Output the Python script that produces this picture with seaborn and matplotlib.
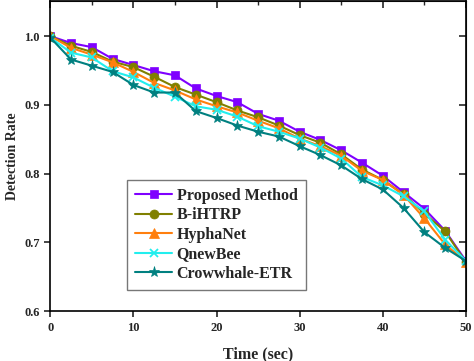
import numpy as np
import pandas as pd
import matplotlib
matplotlib.use('Agg')
import matplotlib.pyplot as plt
import seaborn as sns

# Données
time = [0, 2.5, 5, 7.5, 10, 12.5, 15, 17.5, 20, 22.5, 25, 27.5, 30, 32.5, 35, 37.5, 40, 42.5, 45, 47.5, 50]
proposed = [1.000, 0.990, 0.984, 0.967, 0.958, 0.949, 0.943, 0.924, 0.913, 0.904, 0.887,
            0.877, 0.861, 0.849, 0.834, 0.816, 0.797, 0.773, 0.749, 0.717, 0.673]
bihtrp = [1.000, 0.986, 0.977, 0.963, 0.955, 0.941, 0.926, 0.915, 0.904, 0.892, 0.882,
          0.870, 0.856, 0.845, 0.828, 0.806, 0.791, 0.770, 0.742, 0.716, 0.671]
hyphanet = [1.000, 0.983, 0.973, 0.962, 0.948, 0.932, 0.921, 0.908, 0.898, 0.889, 0.877,
            0.866, 0.851, 0.840, 0.826, 0.804, 0.791, 0.769, 0.735, 0.697, 0.672]
qnewbee = [0.998, 0.976, 0.969, 0.949, 0.940, 0.925, 0.912, 0.898, 0.893, 0.883, 0.869,
           0.861, 0.851, 0.838, 0.822, 0.795, 0.783, 0.767, 0.745, 0.704, 0.673]
crowwhale = [0.998, 0.966, 0.957, 0.948, 0.929, 0.918, 0.918, 0.891, 0.881, 0.870, 0.861,
             0.854, 0.840, 0.827, 0.812, 0.792, 0.777, 0.750, 0.715, 0.692, 0.673]

methods = ['Proposed Method', 'B-iHTRP', 'HyphaNet', 'QnewBee', 'Crowwhale-ETR']
series = [proposed, bihtrp, hyphanet, qnewbee, crowwhale]
colors = ['#7f00ff', '#808000', '#ff7f0e', '#22eeee', '#008080']
markers = ['s', 'o', '^', 'x', '*']
msizes = [6, 6.5, 6.5, 6, 8]

sns.set_style('ticks')
plt.rcParams['font.family'] = ['Liberation Serif', 'DejaVu Serif']
plt.rcParams['font.weight'] = 'bold'
plt.rcParams['axes.labelweight'] = 'bold'

fig, ax = plt.subplots(figsize=(4.74, 3.61), dpi=100)
fig.subplots_adjust(left=0.106, right=0.983, top=0.997, bottom=0.138)

for m, v, c, mk, ms in zip(methods, series, colors, markers, msizes):
    sns.lineplot(x=time, y=v, color=c, marker=mk, markersize=ms, linewidth=1.5,
                 markeredgewidth=1.3 if mk == 'x' else 0.5, markeredgecolor=c,
                 label=m, ax=ax)

ax.set_xlim(0, 50)
ax.set_ylim(0.6, 1.051)
ax.set_xticks([0, 10, 20, 30, 40, 50])
ax.set_yticks([0.6, 0.7, 0.8, 0.9, 1.0])
ax.set_xlabel('Time (sec)', fontsize=11.5, fontweight='bold', labelpad=9)
ax.set_ylabel('Detection Rate', fontsize=10, fontweight='bold')
ax.tick_params(axis='both', labelsize=9, width=1.2, length=4, direction='out')
for s in ax.spines.values():
    s.set_linewidth(1.2)
    s.set_color('black')

# graduations internes en haut et à droite
top = ax.secondary_xaxis('top')
top.set_xticks([0, 10, 20, 30, 40, 50])
top.set_xticks([5, 15, 25, 35, 45], minor=True)
top.tick_params(direction='in', labeltop=False, width=1.2, length=5)
top.tick_params(which='minor', direction='in', length=3, width=1)
right = ax.secondary_yaxis('right')
right.set_yticks([0.6, 0.7, 0.8, 0.9, 1.0])
right.tick_params(direction='in', labelright=False, width=1.2, length=5)

leg = ax.legend(loc='lower left', bbox_to_anchor=(0.185, 0.069), borderaxespad=0,
                fontsize=11.5, handlelength=2.3, labelspacing=0.22, handletextpad=0.3,
                borderpad=0.5, fancybox=False, framealpha=1)
leg.get_frame().set_edgecolor('#777777')
leg.get_frame().set_linewidth(1)
for t in leg.get_texts():
    t.set_fontweight('bold')

plt.savefig('out.png', dpi=100)
